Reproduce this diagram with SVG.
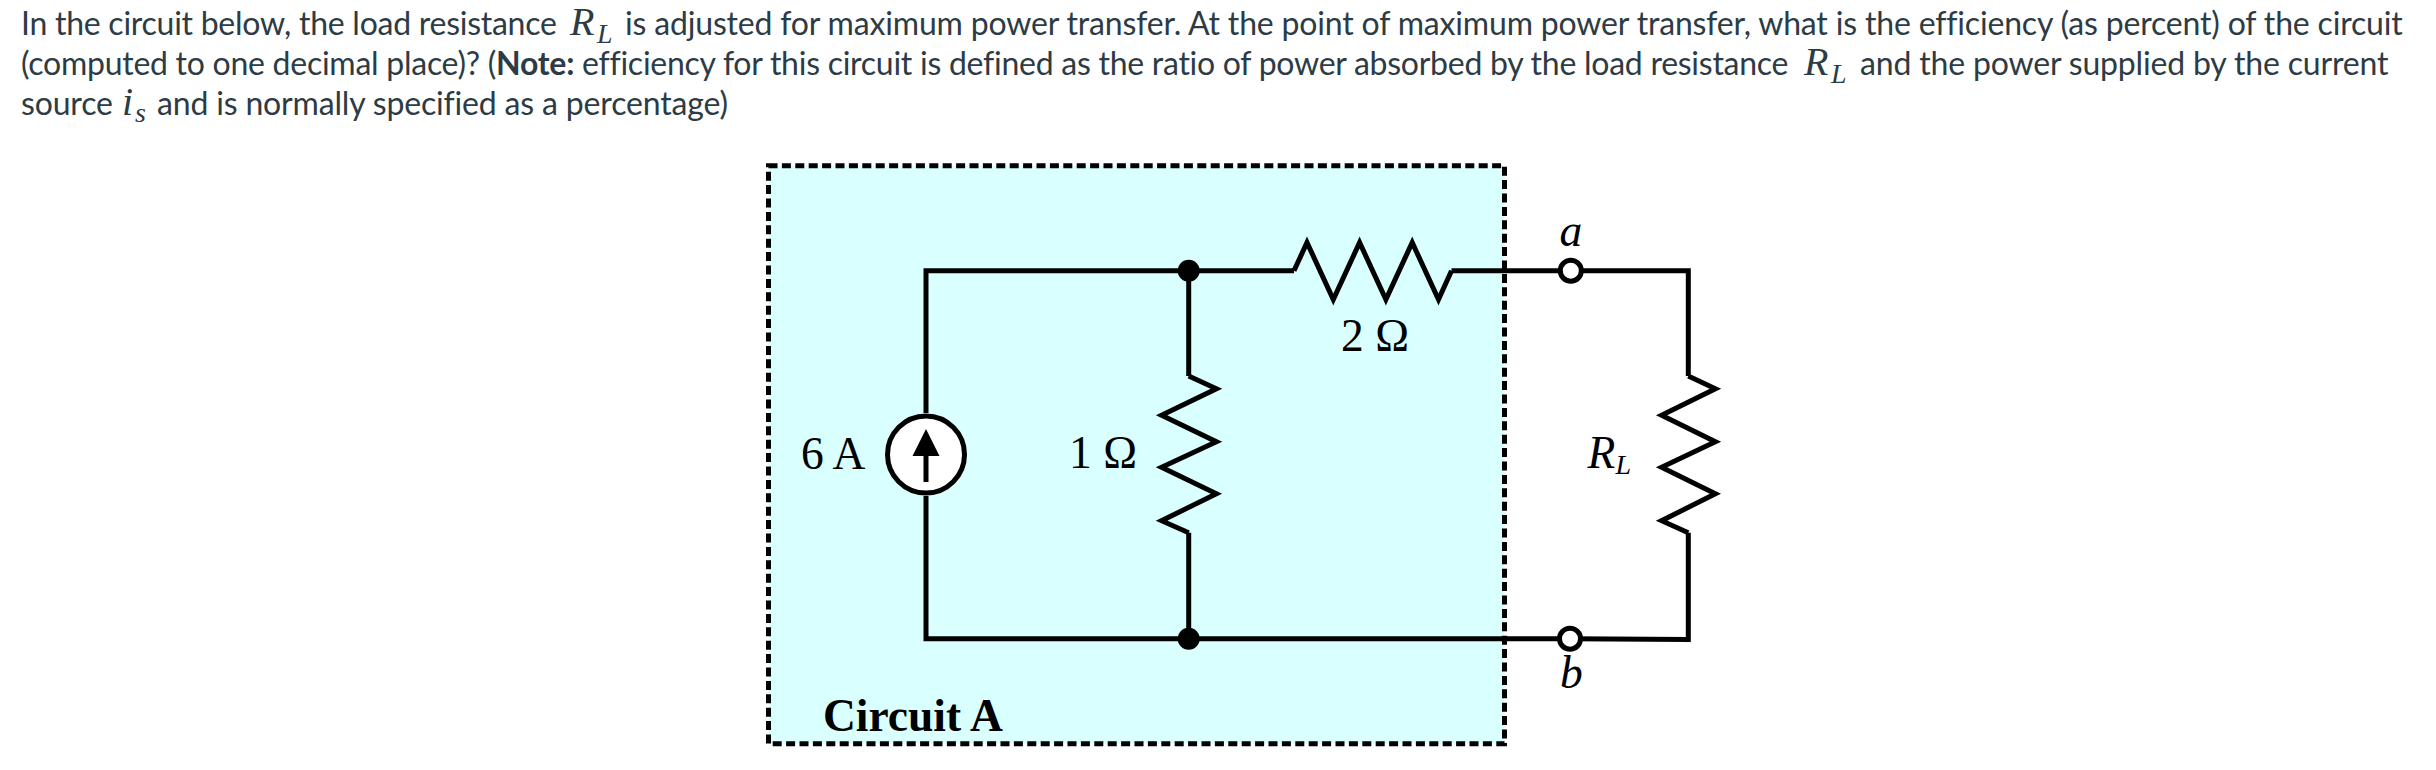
<svg xmlns="http://www.w3.org/2000/svg" width="2436" height="770" viewBox="0 0 2436 770">
<style>
.q{font-family:"Lato","Open Sans",sans-serif;font-size:32px;letter-spacing:-0.17px;fill:#2d3b45}
.n{letter-spacing:-0.26px}
.qb{font-weight:700}
.m{font-family:"Liberation Serif","DejaVu Serif",serif;font-style:italic;font-size:40px;fill:#2d3b45}
.ms{font-family:"Liberation Serif","DejaVu Serif",serif;font-style:italic;font-size:28px;fill:#2d3b45}
.t{font-family:"Liberation Serif","Times New Roman",serif;font-size:45.5px;fill:#000}
.i{font-style:italic}
.w{fill:none;stroke:#000;stroke-width:5;stroke-linejoin:miter}
.d{fill:#000;stroke:none}
.o{fill:#fff;stroke:#000;stroke-width:5}
</style>
<rect width="2436" height="770" fill="#fff"/>
<g id="question">
<text class="q n" x="21" y="35">In the circuit below, the load resistance</text>
<text class="m" x="570" y="35">R</text><text class="ms" x="597" y="43">L</text>
<text class="q" x="625" y="35">is adjusted for maximum power transfer. At the point of maximum power transfer, what is the efficiency (as percent) of the circuit</text>
<text class="q n" x="21" y="75">(computed to one decimal place)? (<tspan class="qb">Note:</tspan> efficiency for this circuit is defined as the ratio of power absorbed by the load resistance</text>
<text class="m" x="1804" y="75">R</text><text class="ms" x="1831" y="83">L</text>
<text class="q" x="1860" y="75">and the power supplied by the current</text>
<text class="q" x="21" y="115">source</text>
<text class="m" x="122" y="115">i</text><text class="ms" x="135" y="122">s</text>
<text class="q" x="157" y="115">and is normally specified as a percentage)</text>
</g>
<g id="circuit-a-box">
<rect x="768.5" y="165.7" width="736" height="578" fill="#d9ffff" stroke="#000" stroke-width="5" stroke-dasharray="9 4.4"/>
<text class="t" x="823" y="731" font-weight="700">Circuit A</text>
</g>
<g id="connectors">
<path class="w" d="M926 413V270.7H1294"/>
<path class="w" d="M926 496V638.7H1570"/>
<path class="w" d="M1188.7 270.7V376"/>
<path class="w" d="M1188.7 532.7V638.7"/>
<path class="w" d="M1451.5 270.7H1570"/>
<path class="w" d="M1570.8 270.7H1688.3V376"/>
<path class="w" d="M1688.3 532.7V639.5L1570 638.7"/>
</g>
<g id="source">
<circle class="o" cx="926" cy="454.5" r="38.5"/>
<path class="d" d="M926 429L939.5 456H912.5Z"/>
<path class="w" d="M926 450V482"/>
<text class="t" x="801" y="469">6 A</text>
</g>
<g id="r1">
<path class="w" d="M1188.7 376L1216.4 388.7L1161.6 415.3L1216.4 441.7L1161.6 467.3L1216.4 493.7L1161.6 520.7L1188.7 532.7"/>
<text class="t" x="1069" y="468">1 Ω</text>
</g>
<g id="r2">
<path class="w" d="M1294 270.7L1307 242.5L1333.3 299.5L1359.6 242.5L1385.9 299.5L1412.2 242.5L1438.5 299.5L1451.5 270.7"/>
<text class="t" x="1341" y="350.7">2 Ω</text>
</g>
<g id="rl">
<path class="w" d="M1688.3 376L1715.4 388.7L1661.6 415.3L1715.4 441.7L1661.6 467.3L1715.4 493.7L1661.6 520.7L1688.3 532.7"/>
<text class="t i" x="1587.6" y="468">R</text><text class="t i" x="1615.6" y="474" style="font-size:28px">L</text>
</g>
<g id="junction-top"><circle class="d" cx="1188.7" cy="270.7" r="11"/></g>
<g id="junction-bottom"><circle class="d" cx="1188.7" cy="638.7" r="11"/></g>
<g id="terminal-a">
<circle class="o" cx="1570.8" cy="270.7" r="10.5"/>
<text class="t i" x="1559.5" y="246">a</text>
</g>
<g id="terminal-b">
<circle class="o" cx="1570" cy="638.7" r="10.5"/>
<text class="t i" x="1560" y="688">b</text>
</g>
</svg>
